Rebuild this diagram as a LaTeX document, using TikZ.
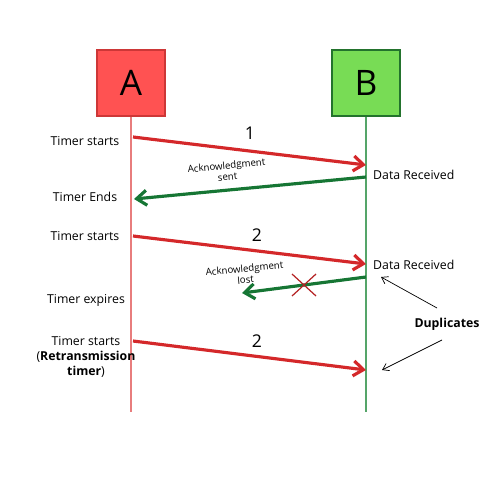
\documentclass[tikz,border=0pt]{standalone}
\usepackage{fontspec}
\setmainfont{Open Sans}
\usetikzlibrary{positioning,arrows.meta,calc}
\definecolor{boxRed}{RGB}{255,82,82}
\definecolor{boxRedLine}{RGB}{205,55,55}
\definecolor{boxGreen}{RGB}{120,220,85}
\definecolor{boxGreenLine}{RGB}{35,115,45}
\definecolor{msgRed}{RGB}{212,40,42}
\definecolor{msgGreen}{RGB}{22,118,52}
\definecolor{lifeRed}{RGB}{232,125,125}
\definecolor{lifeGreen}{RGB}{85,165,105}

\begin{document}
\begin{tikzpicture}[x=0.02cm, y=-0.02cm,
  hostbox/.style={draw, line width=1pt, minimum width=1.36cm,
                  minimum height=1.32cm, font=\fontsize{20}{22}\selectfont},
  lifeline/.style={line width=0.8pt},
  datamsg/.style={-{Straight Barb[length=2mm,width=3mm]}, line width=1.8pt, msgRed},
  ackmsg/.style={-{Straight Barb[length=2mm,width=3mm]}, line width=1.8pt, msgGreen},
  sidelabel/.style={font=\fontsize{7}{8.5}\selectfont, align=center},
  seqlabel/.style={font=\fontsize{10}{12}\selectfont},
  acklabel/.style={font=\fontsize{5.5}{6.5}\selectfont, align=center, rotate=5.4,
                   inner sep=1pt},
  pointer/.style={-{Straight Barb[length=1.2mm,width=1.6mm]}, thin, black}
]
\useasboundingbox (0,0) rectangle (500,500);
%% Hosts
\node[hostbox, draw=boxRedLine, fill=boxRed]       (A) at (131,83)  {A};
\node[hostbox, draw=boxGreenLine, fill=boxGreen]   (B) at (366,83)  {B};
\coordinate (Aend) at (131,412);
\coordinate (Bend) at (366,412);
\draw[lifeline, lifeRed]   (A.south) -- (Aend);
\draw[lifeline, lifeGreen] (B.south) -- (Bend);
%% Message 1 and its ack
\coordinate (s1) at (133,137);  \coordinate (r1) at (366,165);
\coordinate (a1) at (366,177);  \coordinate (e1) at (134,199);
\draw[datamsg] (s1) -- (r1);
\draw[ackmsg]  (a1) -- (e1);
\node[seqlabel] (n1) at (250,133) {1};
\node[acklabel] (ack1) at (227,171) {Acknowledgment\\sent};
\node[sidelabel] (ts1) at (85,141) {Timer starts};
\node[sidelabel] (te1) at (85,197) {Timer Ends};
\node[sidelabel, right] (dr1) at (367,175) {Data Received};
%% Message 2, ack lost
\coordinate (s2) at (133,236);  \coordinate (r2) at (366,264);
\coordinate (a2) at (366,277);  \coordinate (e2) at (242,293);
\draw[datamsg] (s2) -- (r2);
\draw[ackmsg]  (a2) -- (e2);
\node[seqlabel] (n2) at (257,235) {2};
\node[acklabel] (ack2) at (245,274) {Acknowledgment\\lost};
\coordinate (lost) at (304,285);
\draw[msgRed!85!black, line width=0.7pt]
  ($(lost)+(-12,-11)$) -- ($(lost)+(12,11)$)
  ($(lost)+(-12,11)$) -- ($(lost)+(12,-11)$);
\node[sidelabel] (ts2) at (85,236) {Timer starts};
\node[sidelabel] (tx2) at (86,300) {Timer expires};
\node[sidelabel, right] (dr2) at (367,265) {Data Received};
%% Retransmission
\coordinate (s3) at (133,341);  \coordinate (r3) at (366,370);
\draw[datamsg] (s3) -- (r3);
\node[seqlabel] (n3) at (257,341) {2};
\node[sidelabel] (ts3) at (86,357)
  {Timer starts\\(\textbf{Retransmission}\\\textbf{timer})};
%% Duplicates
\node[sidelabel, font=\fontsize{7}{8.5}\selectfont\bfseries] (dup) at (447,324) {Duplicates};
\coordinate (p1) at (437,308);  \coordinate (q1) at (381,277);
\coordinate (p2) at (442,340);  \coordinate (q2) at (382,370);
\draw[pointer] (p1) -- (q1);
\draw[pointer] (p2) -- (q2);
\end{tikzpicture}
\end{document}
